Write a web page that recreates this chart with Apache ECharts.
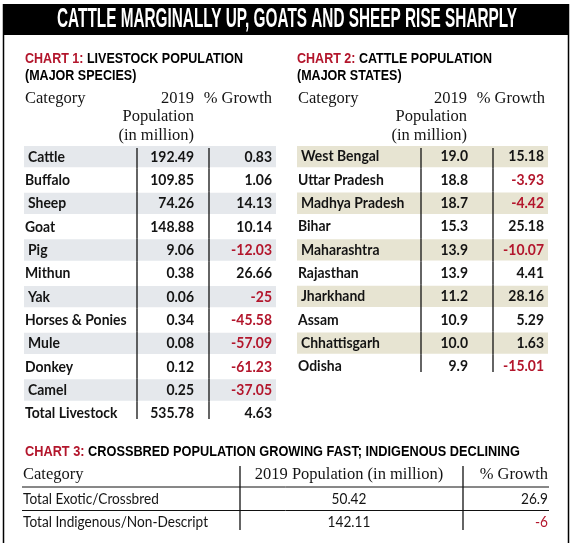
<!DOCTYPE html>
<html><head><meta charset="utf-8">
<script src="https://cdn.jsdelivr.net/npm/echarts@6/dist/echarts.min.js"></script>
<style>html,body{margin:0;padding:0;background:#fff}#c{width:572px;height:543px}</style>
</head><body><div id="c"></div>
<script>
// ---- data ----
var headline = 'CATTLE MARGINALLY UP, GOATS AND SHEEP RISE SHARPLY';
var chart1Title = ['CHART 1:', 'LIVESTOCK POPULATION', '(MAJOR SPECIES)'];
var chart2Title = ['CHART 2:', 'CATTLE POPULATION', '(MAJOR STATES)'];
var chart3Title = ['CHART 3:', 'CROSSBRED POPULATION GROWING FAST; INDIGENOUS DECLINING'];
var headerLabels = ['Category', '2019', 'Population', '(in million)', '% Growth'];
var headerLabels3 = ['Category', '2019 Population (in million)', '% Growth'];

var livestockCategories = ['Cattle', 'Buffalo', 'Sheep', 'Goat', 'Pig', 'Mithun', 'Yak', 'Horses & Ponies', 'Mule', 'Donkey', 'Camel', 'Total Livestock'];
var livestockPopulation = [192.49, 109.85, 74.26, 148.88, 9.06, 0.38, 0.06, 0.34, 0.08, 0.12, 0.25, 535.78];
var livestockGrowth = [0.83, 1.06, 14.13, 10.14, -12.03, 26.66, -25, -45.58, -57.09, -61.23, -37.05, 4.63];

var stateCategories = ['West Bengal', 'Uttar Pradesh', 'Madhya Pradesh', 'Bihar', 'Maharashtra', 'Rajasthan', 'Jharkhand', 'Assam', 'Chhattisgarh', 'Odisha'];
var statePopulation = [19.0, 18.8, 18.7, 15.3, 13.9, 13.9, 11.2, 10.9, 10.0, 9.9];
var stateGrowth = [15.18, -3.93, -4.42, 25.18, -10.07, 4.41, 28.16, 5.29, 1.63, -15.01];

var breedCategories = ['Total Exotic/Crossbred', 'Total Indigenous/Non-Descript'];
var breedPopulation = [50.42, 142.11];
var breedGrowth = [26.9, -6];

// ---- styling ----
var RED = '#b3162c';
var INK = '#141414';
var DATA_FONT = 'bold 15px Lato';
var HEAD_FONT = '16.5px "Liberation Serif"';
var mctx = document.createElement('canvas').getContext('2d');
function textW(font, s) { mctx.font = font; return mctx.measureText(s).width; }

function txt(x, y, s, align, fill, font, sx) {
  return { type: 'text', x: x, y: y, scaleX: sx || 1,
    style: { text: s, font: font || DATA_FONT, fill: fill || INK, align: align, textAlign: align, verticalAlign: 'middle', textVerticalAlign: 'middle' } };
}

var TITLE_FONT = 'bold 15.5px "Liberation Sans"';
var titleScale = 218 / textW(TITLE_FONT, chart1Title[0] + ' ' + chart1Title[1]);
function chartTitle(x, y, parts, second, sc) {
  var s = sc || titleScale;
  var els = [{ type: 'text', x: x, y: y, scaleX: s,
    style: { text: '{r|' + parts[0] + '} {k|' + parts[1] + '}', font: TITLE_FONT,
      rich: { r: { fill: RED, font: TITLE_FONT }, k: { fill: '#000', font: TITLE_FONT } },
      verticalAlign: 'middle', textVerticalAlign: 'middle' } }];
  if (second) els.push({ type: 'text', x: x, y: y + 17, scaleX: s,
    style: { text: second, font: TITLE_FONT, fill: '#000', verticalAlign: 'middle', textVerticalAlign: 'middle' } });
  return els;
}

var HL_FONT = 'bold 28px "Liberation Sans"';
var hlScale = 460 / textW(HL_FONT, headline);

var graphics = [
  { type: 'rect', shape: { x: 3, y: 4, width: 566, height: 31 }, style: { fill: '#000' } },
  { type: 'line', shape: { x1: 3.5, y1: 4, x2: 3.5, y2: 543 }, style: { stroke: '#000', lineWidth: 1.5 } },
  { type: 'line', shape: { x1: 568.5, y1: 4, x2: 568.5, y2: 543 }, style: { stroke: '#000', lineWidth: 1.5 } },
  { type: 'text', x: 287, y: 19.5, scaleX: hlScale,
    style: { text: headline, font: HL_FONT, fill: '#fff', align: 'center', textAlign: 'center', verticalAlign: 'middle', textVerticalAlign: 'middle' } }
];
graphics = graphics.concat(chartTitle(25, 58.5, chart1Title, chart1Title[2]));
graphics = graphics.concat(chartTitle(297, 58.5, chart2Title, chart2Title[2]));
graphics = graphics.concat(chartTitle(25, 452, chart3Title, null,
  495 / textW(TITLE_FONT, chart3Title[0] + ' ' + chart3Title[1])));
// table headers
[[25, 194, 272], [298, 467, 545]].forEach(function (h) {
  graphics.push(txt(h[0], 99, headerLabels[0], 'left', INK, HEAD_FONT));
  graphics.push(txt(h[1], 99, headerLabels[1], 'right', INK, HEAD_FONT));
  graphics.push(txt(h[1], 117, headerLabels[2], 'right', INK, HEAD_FONT));
  graphics.push(txt(h[1], 135.5, headerLabels[3], 'right', INK, HEAD_FONT));
  graphics.push(txt(h[2], 99, headerLabels[4], 'right', INK, HEAD_FONT));
});
graphics.push(txt(23, 475, headerLabels3[0], 'left', INK, HEAD_FONT));
graphics.push(txt(349, 475, headerLabels3[1], 'center', INK, HEAD_FONT));
graphics.push(txt(548, 475, headerLabels3[2], 'right', INK, HEAD_FONT));

function tableSeries(idx, cats, pops, growth, digits, L) {
  return {
    type: 'custom', xAxisIndex: idx, yAxisIndex: idx, silent: true,
    data: cats.map(function (c, i) { return [0, i]; }),
    encode: { x: 0, y: 1 },
    renderItem: function (params, api) {
      var i = api.value(1);
      var p = api.coord([0, i]);
      var bh = api.size([0, 1])[1];
      var y = p[1];
      var X = function (v) { return api.coord([v, i])[0]; };
      var top = y - bh / 2, bot = y + bh / 2;
      var ch = [];
      var shaded = (i % 2 === 0) && L.shade;
      if (shaded) ch.push({ type: 'rect', shape: { x: X(0), y: top + 1, width: X(L.shadeW) - X(0), height: bh - 2 }, style: { fill: L.shade } });
      if (L.hline) ch.push({ type: 'line', shape: { x1: X(0), y1: top, x2: X(L.hline), y2: top }, style: { stroke: '#111', lineWidth: 1 } });
      var lt = i === 0 ? top - L.ext : top, lb = i === cats.length - 1 ? bot - L.cut : bot;
      L.lines.forEach(function (lx) {
        ch.push({ type: 'line', shape: { x1: X(lx), y1: lt, x2: X(lx), y2: lb }, style: { stroke: '#111', lineWidth: 1.3 } });
      });
      ch.push(txt(X(L.cat) + (shaded ? 3 : 0), y, cats[i], 'left', INK, L.font, L.sx));
      ch.push(txt(X(L.pop), y, pops[i].toFixed(digits), L.popAlign, INK, L.font, L.sx));
      ch.push(txt(X(L.gr), y, String(growth[i]), 'right', growth[i] < 0 ? RED : INK, L.font, L.sx));
      return { type: 'group', children: ch };
    }
  };
}

var grids = [
  { left: 24, top: 145, width: 252, height: 280 },
  { left: 297, top: 145, width: 251, height: 233 },
  { left: 22, top: 487, width: 527, height: 47 }
];
var cats = [livestockCategories, stateCategories, breedCategories];
var option = {
  animation: false,
  backgroundColor: '#fff',
  grid: grids,
  xAxis: grids.map(function (g, i) { return { type: 'value', gridIndex: i, min: 0, max: g.width, show: false }; }),
  yAxis: grids.map(function (g, i) { return { type: 'category', gridIndex: i, data: cats[i], inverse: true, show: false }; }),
  series: [
    tableSeries(0, livestockCategories, livestockPopulation, livestockGrowth, 2,
      { cat: 1, pop: 170, gr: 248, lines: [113, 185], shadeW: 252, shade: '#e5e8ec', ext: -3, cut: 6, popAlign: 'right', font: DATA_FONT, sx: 0.93 }),
    tableSeries(1, stateCategories, statePopulation, stateGrowth, 1,
      { cat: 1, pop: 171, gr: 247, lines: [124, 196], shadeW: 251, shade: '#e7e4d2', ext: -3, cut: 6, popAlign: 'right', font: DATA_FONT, sx: 0.93 }),
    tableSeries(2, breedCategories, breedPopulation, breedGrowth, 2,
      { cat: 1, pop: 327, gr: 526, lines: [218, 441], hline: 527, ext: 21, cut: 4, popAlign: 'center', font: '15.5px Lato', sx: 0.88 })
  ],
  graphic: { elements: graphics }
};
var chart = echarts.init(document.getElementById('c'));
chart.setOption(option);
</script></body></html>
